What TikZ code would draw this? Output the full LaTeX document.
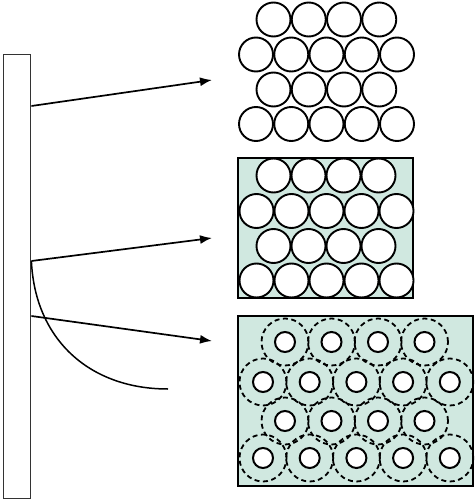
\documentclass[tikz,border=0pt]{standalone}
\usepackage{tikz}
\usetikzlibrary{arrows.meta}
\definecolor{gelgreen}{RGB}{208,232,224}

\begin{document}
\begin{tikzpicture}[x = 1pt, y = -1pt]
\tikzstyle{Particle}=[shape = circle, draw, fill = white,
                      line width = 1.9pt, inner sep = 0pt,
                      minimum size = 34pt]
\tikzstyle{Core}=[shape = circle, draw, fill = white,
                  line width = 2pt, inner sep = 0pt,
                  minimum size = 20pt]
\tikzstyle{Shell}=[shape = circle, draw, dash pattern = on 5pt off 3.5pt,
                   line width = 1.8pt, inner sep = 0pt,
                   minimum size = 47pt]
\tikzstyle{Box}=[draw, fill = gelgreen, line width = 1.5pt]
\tikzstyle{post}=[-{Latex[length = 12pt, width = 9pt]}, line width = 1.7pt]
\useasboundingbox (0,0) rectangle (474,500);
% substrate
\node[draw, line width = 1.4pt, draw = black!80, minimum width = 27pt,
      minimum height = 444pt, inner sep = 0pt, anchor = north west] (wall) at (3,54) {};
\coordinate (s1) at (wall.east |- 0,106);
\coordinate (s2) at (wall.east |- 0,261);
\coordinate (s3) at (wall.east |- 0,316);
\coordinate (e1) at (212,80);
\coordinate (e2) at (212,238);
\coordinate (e3) at (212,341);
\coordinate (tail) at (168,389);
% dry packing
\foreach \k in {0,...,3} \node[Particle] (a\k) at (273.5+35.25*\k,19.5) {};
\foreach \k in {0,...,4} \node[Particle] (b\k) at (256+35.25*\k,54.5) {};
\foreach \k in {0,...,3} \node[Particle] (c\k) at (273.5+35.25*\k,89.5) {};
\foreach \k in {0,...,4} \node[Particle] (d\k) at (256+35.25*\k,124) {};
% packing in matrix
\draw[Box] (238,158) rectangle (413,298);
\foreach \k in {0,...,3} \node[Particle] (f\k) at (273.5+35*\k,175.5) {};
\foreach \k in {0,...,4} \node[Particle] (g\k) at (256.5+35*\k,211) {};
\foreach \k in {0,...,3} \node[Particle] (h\k) at (273.5+35*\k,246) {};
\foreach \k in {0,...,4} \node[Particle] (i\k) at (256.5+35*\k,280.5) {};
% swollen shells
\draw[Box] (238,316) rectangle (473,486);
\foreach \k in {0,...,3} \node[Shell] (p\k) at (285+46.5*\k,342) {};
\foreach \k in {0,...,4} \node[Shell] (q\k) at (263+46.7*\k,382) {};
\foreach \k in {0,...,3} \node[Shell] (r\k) at (285+46.5*\k,421) {};
\foreach \k in {0,...,4} \node[Shell] (u\k) at (263+46.7*\k,458) {};
\foreach \k in {0,...,3} \node[Core] at (p\k) {};
\foreach \k in {0,...,4} \node[Core] at (q\k) {};
\foreach \k in {0,...,3} \node[Core] at (r\k) {};
\foreach \k in {0,...,4} \node[Core] at (u\k) {};
% arrows
\draw[post] (s1) -- (e1);
\draw[post] (s2) -- (e2);
\draw[post] (s3) -- (e3);
\draw[line width = 1.5pt] (s2) .. controls (35,340) and (90,389) .. (tail);
\end{tikzpicture}
\end{document}
